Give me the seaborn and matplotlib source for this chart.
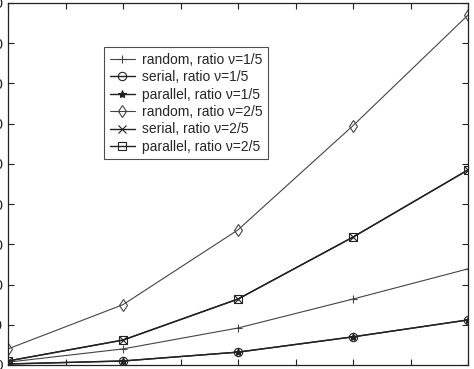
import numpy as np
import pandas as pd
import matplotlib
matplotlib.use("Agg")
import matplotlib.pyplot as plt
import seaborn as sns

x_vals = [1, 2, 3, 4, 5]
random_15 = [0.7, 4.0, 9.2, 16.4, 23.9]
serial_15 = [0.25, 1.0, 3.2, 7.0, 11.2]
parallel_15 = [0.25, 1.0, 3.2, 7.0, 11.2]
random_25 = [4.0, 15.0, 33.6, 59.5, 87.0]
serial_25 = [1.0, 6.2, 16.4, 31.8, 48.5]
parallel_25 = [1.0, 6.2, 16.4, 31.8, 48.5]
labels = ["random, ratio \u03bd=1/5", "serial, ratio \u03bd=1/5", "parallel, ratio \u03bd=1/5",
          "random, ratio \u03bd=2/5", "serial, ratio \u03bd=2/5", "parallel, ratio \u03bd=2/5"]
y_ticks = [0, 10, 20, 30, 40, 50, 60, 70, 80, 90]
x_ticks = [1, 1.5, 2, 2.5, 3, 3.5, 4, 4.5, 5]

sns.set_style("white")
plt.rcParams['font.family'] = ['Liberation Sans', 'DejaVu Sans']

fig = plt.figure(figsize=(4.74, 3.69), dpi=100)
ax = fig.add_axes([8/474, 4/369, 460/474, 362/369])

series = [random_15, serial_15, parallel_15, random_25, serial_25, parallel_25]
markers = ['+', 'o', '*', 'd', 'x', 's']
colors = ['#444444', '#222222', '#222222', '#444444', '#222222', '#222222']
widths = [0.8, 1.0, 1.0, 0.8, 1.0, 1.0]
for vals, lab, m, c, w in zip(series, labels, markers, colors, widths):
    face = 'none' if m in ('o', 'd', 's') else c
    sns.lineplot(x=x_vals, y=vals, ax=ax, label=lab, marker=m, color=c, linewidth=w,
                 markersize=6, markerfacecolor=face, markeredgecolor=c, markeredgewidth=0.8)

ax.set_xlim(1, 5)
ax.set_ylim(0, 90)
ax.set_xticks(x_ticks)
ax.set_yticks(y_ticks)
ax.set_xticklabels([])
ax.set_yticklabels([str(v) for v in y_ticks], fontsize=11)
ax.tick_params(direction='in', length=4, width=0.8, top=True, right=True, bottom=True, left=True, color='#222222')
for s in ax.spines.values():
    s.set_visible(True)
    s.set_color('#222222')
    s.set_linewidth(0.9)

leg = ax.legend(loc='upper left', bbox_to_anchor=(96/460, 1 - 44/362), frameon=True, fancybox=False,
                edgecolor='#222222', fontsize=10, handlelength=1.8, handletextpad=0.5,
                labelspacing=0.25, borderpad=0.4, borderaxespad=0)
leg.get_frame().set_linewidth(0.8)

fig.savefig("out.png", dpi=100)
